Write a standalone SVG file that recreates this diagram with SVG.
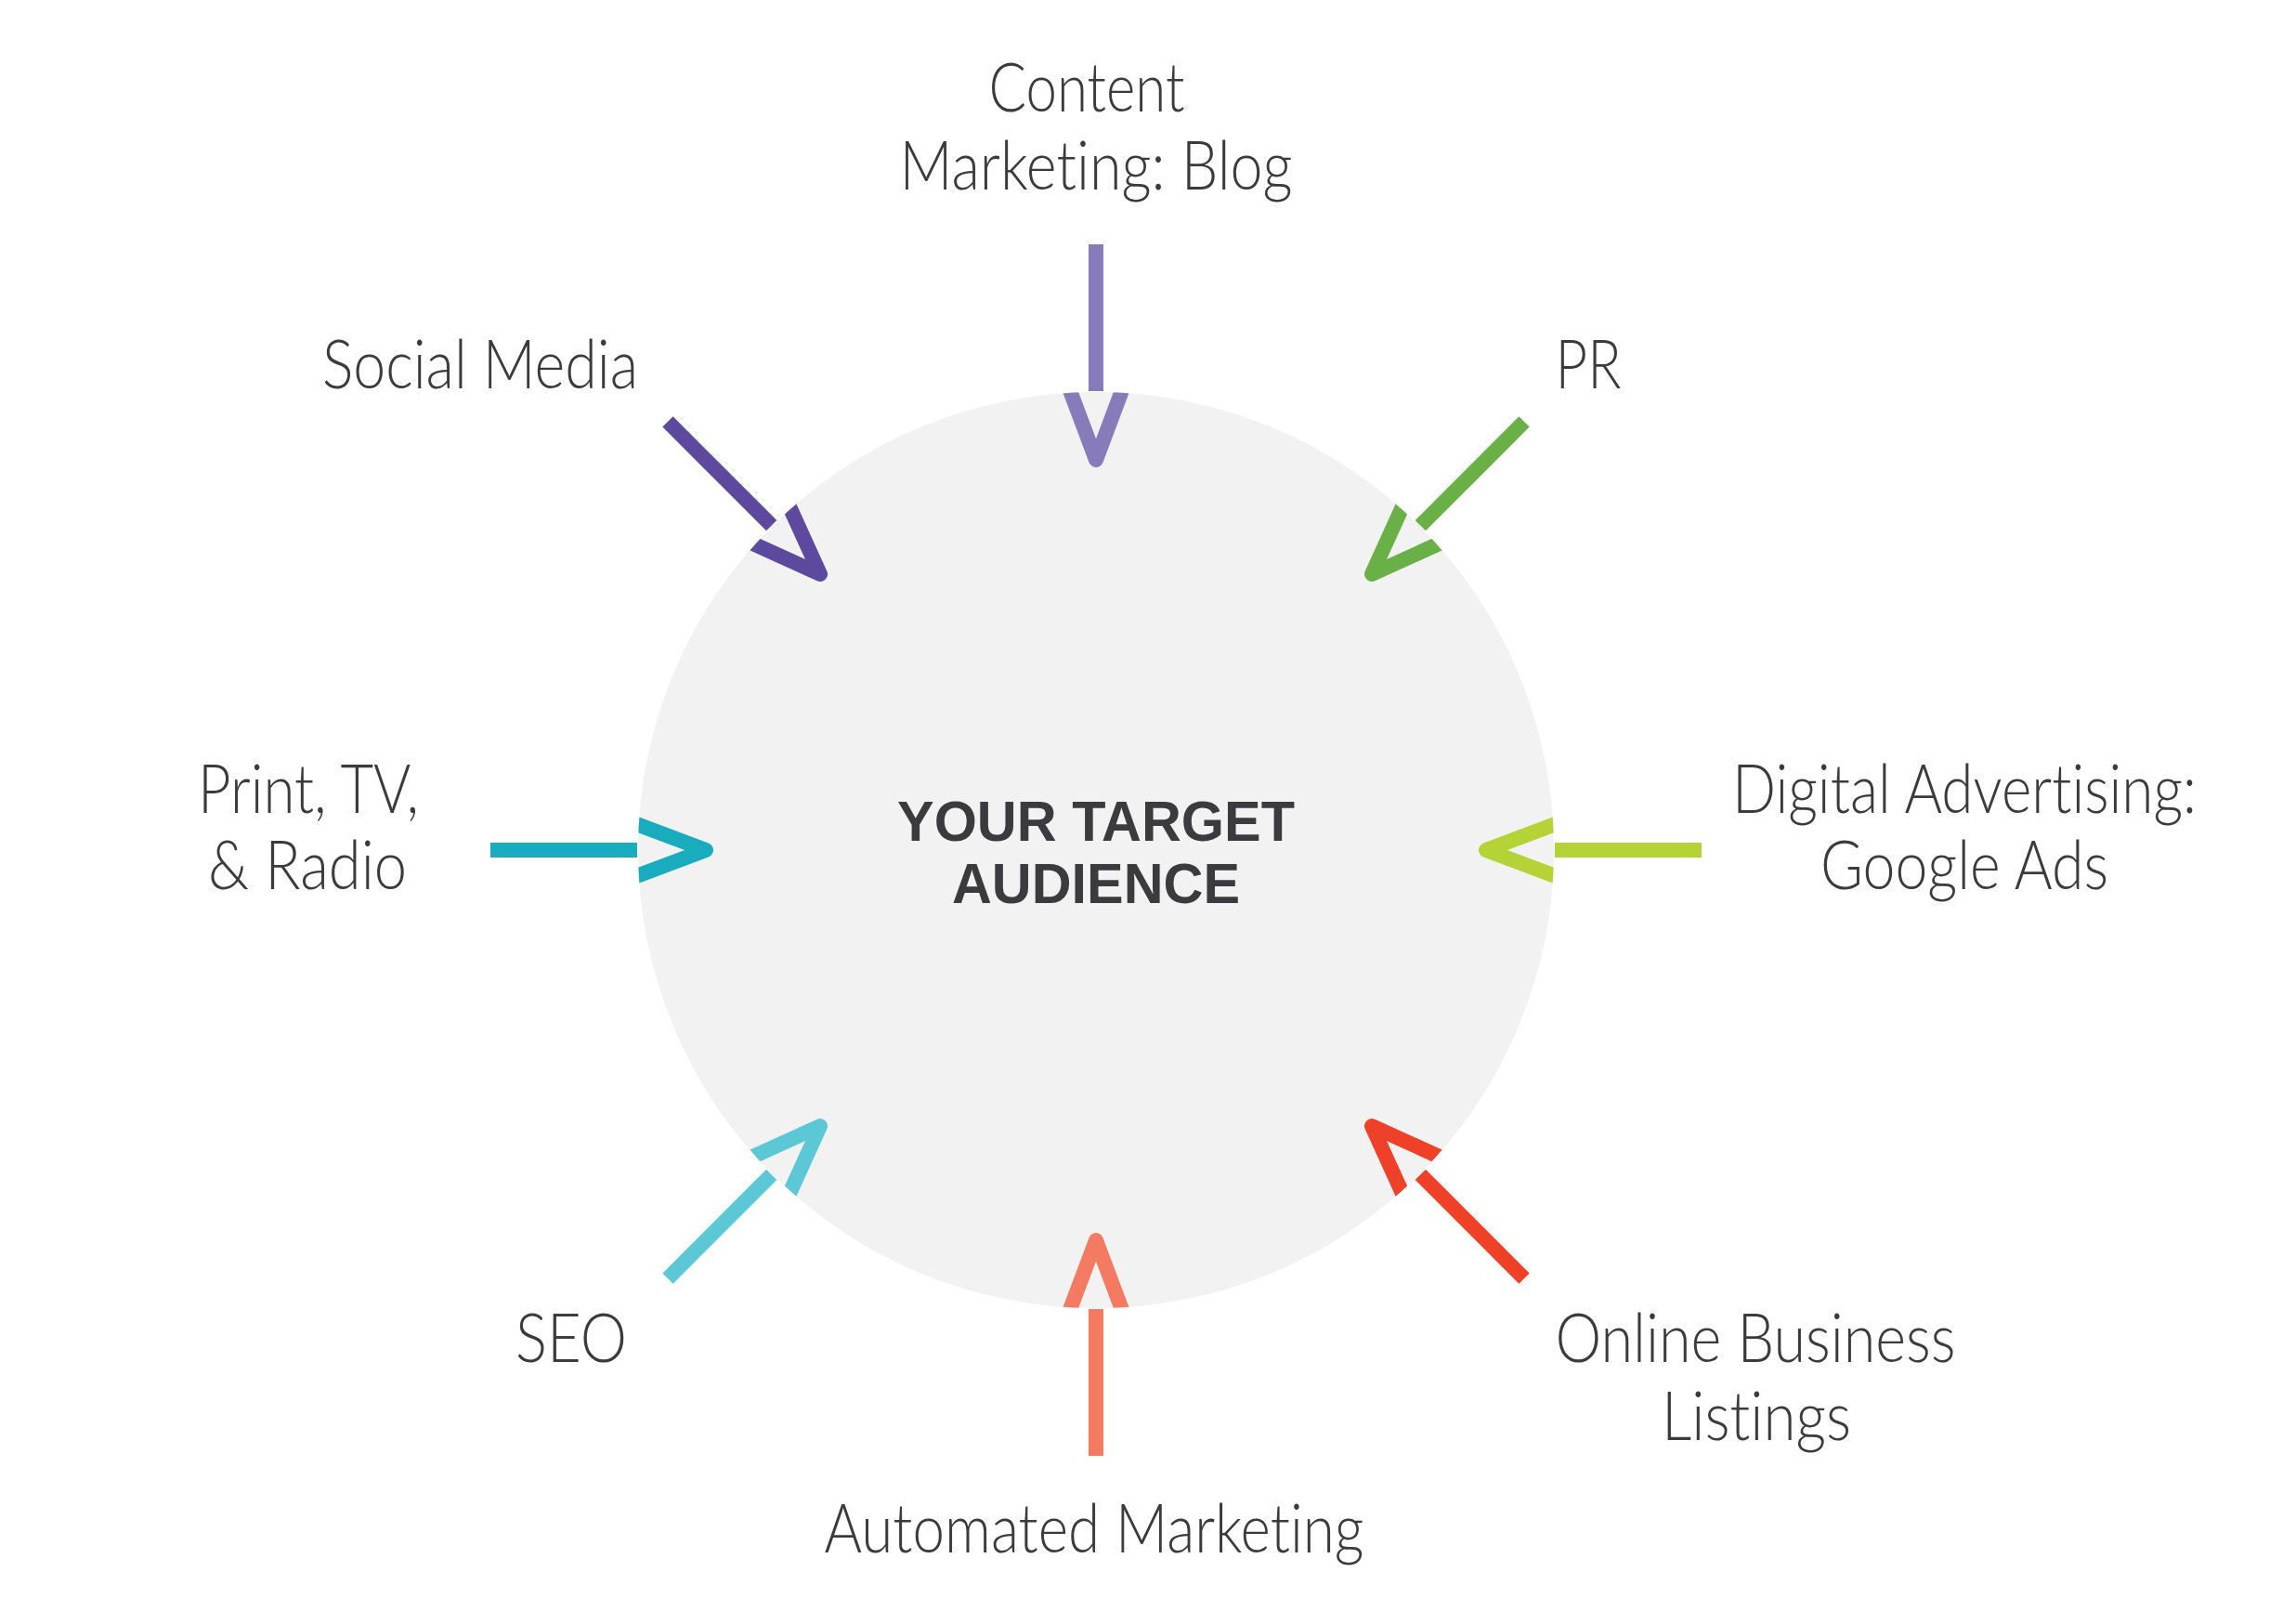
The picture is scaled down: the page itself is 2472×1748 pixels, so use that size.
<svg xmlns="http://www.w3.org/2000/svg" width="2472" height="1748" viewBox="0 0 2472 1748">
  <style>
    .lbl { font-family: "Lato", "Open Sans", "Roboto", sans-serif; font-weight: 300; font-size: 72px; fill: #3b3b3d; text-anchor: middle; font-variant-ligatures: none; font-feature-settings: "liga" 0, "clig" 0, "dlig" 0; }
    .ctr { font-family: "Liberation Sans", Arial, sans-serif; font-weight: bold; font-size: 61px; fill: #3b3b3d; text-anchor: middle; }
    .shaft { fill: none; stroke-width: 16; stroke-linecap: butt; }
    .head { fill: none; stroke-width: 16; stroke-linejoin: round; stroke-linecap: butt; }
  </style>
  <defs>
    <clipPath id="inCircle" clipPathUnits="userSpaceOnUse">
      <circle cx="0" cy="0" r="493"/>
    </clipPath>
  </defs>
  <rect width="2472" height="1748" fill="#ffffff"/>

  <g id="target-audience">
    <circle cx="1180" cy="915" r="493" fill="#f2f2f2"/>
    <text class="ctr" x="1180" y="905" textLength="428" lengthAdjust="spacingAndGlyphs">YOUR TARGET</text>
    <text class="ctr" x="1180" y="972" textLength="310" lengthAdjust="spacingAndGlyphs">AUDIENCE</text>
  </g>

  <g id="connectors">
    <g id="arrow-content" transform="translate(1180,915) rotate(-90)" stroke="#877cb9">
      <line class="shaft" x1="494" y1="0" x2="652" y2="0"/>
      <polyline class="head" clip-path="url(#inCircle)" points="540,-45 420,0 540,45"/>
    </g>
    <g id="arrow-pr" transform="translate(1180,915) rotate(-45)" stroke="#69b146">
      <line class="shaft" x1="494" y1="0" x2="652" y2="0"/>
      <polyline class="head" clip-path="url(#inCircle)" points="540,-45 420,0 540,45"/>
    </g>
    <g id="arrow-digital" transform="translate(1180,915) rotate(0)" stroke="#b3d336">
      <line class="shaft" x1="494" y1="0" x2="652" y2="0"/>
      <polyline class="head" clip-path="url(#inCircle)" points="540,-45 420,0 540,45"/>
    </g>
    <g id="arrow-online" transform="translate(1180,915) rotate(45)" stroke="#ee4127">
      <line class="shaft" x1="494" y1="0" x2="652" y2="0"/>
      <polyline class="head" clip-path="url(#inCircle)" points="540,-45 420,0 540,45"/>
    </g>
    <g id="arrow-automated" transform="translate(1180,915) rotate(90)" stroke="#f47b61">
      <line class="shaft" x1="494" y1="0" x2="652" y2="0"/>
      <polyline class="head" clip-path="url(#inCircle)" points="540,-45 420,0 540,45"/>
    </g>
    <g id="arrow-seo" transform="translate(1180,915) rotate(135)" stroke="#5cc7d5">
      <line class="shaft" x1="494" y1="0" x2="652" y2="0"/>
      <polyline class="head" clip-path="url(#inCircle)" points="540,-45 420,0 540,45"/>
    </g>
    <g id="arrow-print" transform="translate(1180,915) rotate(180)" stroke="#18acbe">
      <line class="shaft" x1="494" y1="0" x2="652" y2="0"/>
      <polyline class="head" clip-path="url(#inCircle)" points="540,-45 420,0 540,45"/>
    </g>
    <g id="arrow-social" transform="translate(1180,915) rotate(-135)" stroke="#5d4a9f">
      <line class="shaft" x1="494" y1="0" x2="652" y2="0"/>
      <polyline class="head" clip-path="url(#inCircle)" points="540,-45 420,0 540,45"/>
    </g>
  </g>

  <g id="content-marketing">
    <text class="lbl" x="1170" y="120" textLength="211" lengthAdjust="spacingAndGlyphs">Content</text>
    <text class="lbl" x="1180" y="204" textLength="423" lengthAdjust="spacingAndGlyphs">Marketing: Blog</text>
  </g>
  <g id="social-media">
    <text class="lbl" x="517" y="418" textLength="340" lengthAdjust="spacingAndGlyphs">Social Media</text>
  </g>
  <g id="pr">
    <text class="lbl" x="1710" y="418" textLength="71" lengthAdjust="spacingAndGlyphs">PR</text>
  </g>
  <g id="print-tv-radio">
    <text class="lbl" x="332" y="875" textLength="238" lengthAdjust="spacingAndGlyphs">Print, TV,</text>
    <text class="lbl" x="331" y="957" textLength="214" lengthAdjust="spacingAndGlyphs">&amp; Radio</text>
  </g>
  <g id="digital-advertising">
    <text class="lbl" x="2115" y="875" textLength="500" lengthAdjust="spacingAndGlyphs">Digital Advertising:</text>
    <text class="lbl" x="2115" y="957" textLength="310" lengthAdjust="spacingAndGlyphs">Google Ads</text>
  </g>
  <g id="seo">
    <text class="lbl" x="615" y="1466" textLength="120" lengthAdjust="spacingAndGlyphs">SEO</text>
  </g>
  <g id="online-business-listings">
    <text class="lbl" x="1890" y="1466" textLength="431" lengthAdjust="spacingAndGlyphs">Online Business</text>
    <text class="lbl" x="1891" y="1550" textLength="204" lengthAdjust="spacingAndGlyphs">Listings</text>
  </g>
  <g id="automated-marketing">
    <text class="lbl" x="1178" y="1671" textLength="581" lengthAdjust="spacingAndGlyphs">Automated Marketing</text>
  </g>
</svg>
